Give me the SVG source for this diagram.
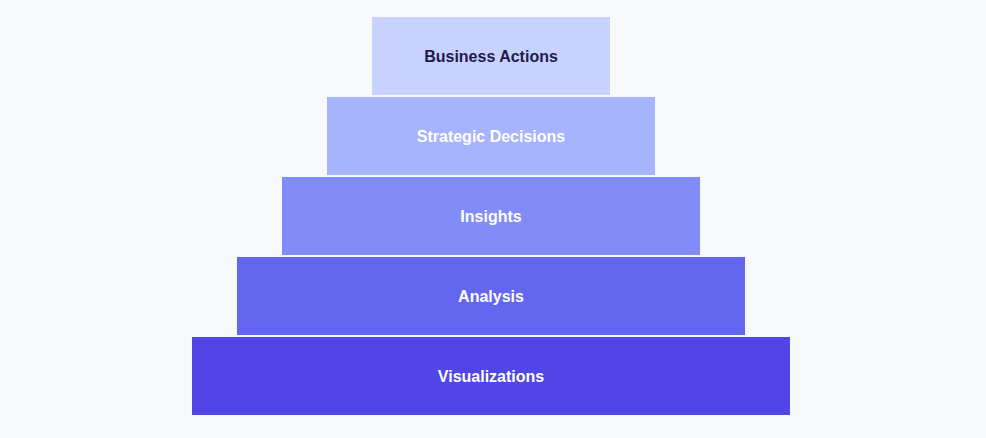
<svg xmlns="http://www.w3.org/2000/svg" width="986" height="438" viewBox="0 0 986 438">
<style>
.t{font-family:"Liberation Sans",Arial,sans-serif;font-size:16px;font-weight:bold;text-anchor:middle;dominant-baseline:central;fill:#ffffff}
.d{fill:#1e1b4b}
</style>
<rect width="986" height="438" fill="#f8f9fb"/>
<g id="visualizations"><rect x="192" y="337" width="598" height="78" fill="#4f46e5"/><text class="t" x="491" y="376">Visualizations</text></g>
<g id="analysis"><rect x="237" y="257" width="508" height="78" fill="#6366f1"/><text class="t" x="491" y="296">Analysis</text></g>
<g id="insights"><rect x="282" y="177" width="418" height="78" fill="#818cf8"/><text class="t" x="491" y="216">Insights</text></g>
<g id="strategic"><rect x="327" y="97" width="328" height="78" fill="#a5b4fc"/><text class="t" x="491" y="136">Strategic Decisions</text></g>
<g id="business"><rect x="372" y="17" width="238" height="78" fill="#c7d2fe"/><text class="t d" x="491" y="56">Business Actions</text></g>
<g id="connectors"/>
</svg>
